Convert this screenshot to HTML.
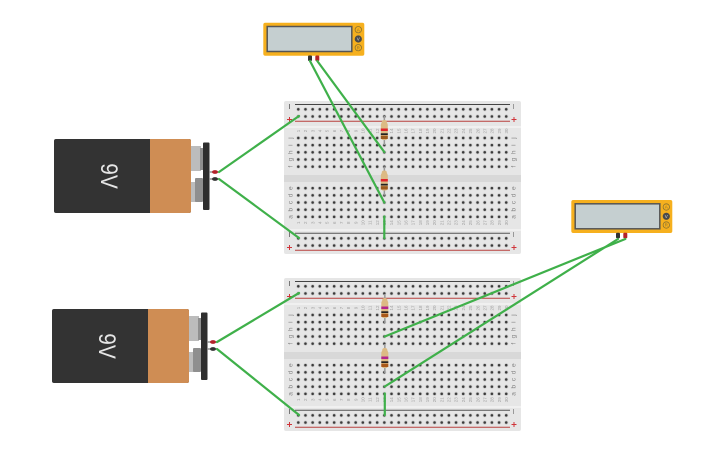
<!DOCTYPE html>
<html>
<head>
<meta charset="utf-8">
<style>
html,body{margin:0;padding:0;background:#fff;width:725px;height:453px;overflow:hidden}
svg{display:block}
text{font-family:"Liberation Sans",sans-serif}
</style>
</head>
<body>
<svg width="725" height="453" viewBox="0 0 725 453" xmlns="http://www.w3.org/2000/svg">
<defs>
<pattern id="h" patternUnits="userSpaceOnUse" x="294.72" y="105.72" width="7.17" height="7.17">
<circle cx="3.585" cy="3.585" r="2.1" fill="#d3d3d3"/>
<circle cx="3.585" cy="3.585" r="1.3" fill="#3a3a3a"/>
</pattern>
<g id="nums" text-anchor="middle" font-size="4.5" fill="#a0a0a0">
<text x="0" y="300">1</text><text x="0" y="307.2">2</text><text x="0" y="314.3">3</text><text x="0" y="321.5">4</text><text x="0" y="328.7">5</text><text x="0" y="335.9">6</text><text x="0" y="343">7</text><text x="0" y="350.2">8</text><text x="0" y="357.4">9</text><text x="0" y="364.5">10</text><text x="0" y="371.7">11</text><text x="0" y="378.9">12</text><text x="0" y="386">13</text><text x="0" y="393.2">14</text><text x="0" y="400.4">15</text><text x="0" y="407.6">16</text><text x="0" y="414.7">17</text><text x="0" y="421.9">18</text><text x="0" y="429.1">19</text><text x="0" y="436.2">20</text><text x="0" y="443.4">21</text><text x="0" y="450.6">22</text><text x="0" y="457.7">23</text><text x="0" y="464.9">24</text><text x="0" y="472.1">25</text><text x="0" y="479.3">26</text><text x="0" y="486.4">27</text><text x="0" y="493.6">28</text><text x="0" y="500.8">29</text><text x="0" y="507.9">30</text>
</g>
<g id="lets" text-anchor="middle" font-size="6.5" fill="#858585">
<text x="-138" y="0">j</text><text x="-145.2" y="0">i</text><text x="-152.3" y="0">h</text><text x="-159.5" y="0">g</text><text x="-166.7" y="0">f</text>
<text x="-188.2" y="0">e</text><text x="-195.4" y="0">d</text><text x="-202.5" y="0">c</text><text x="-209.7" y="0">b</text><text x="-216.9" y="0">a</text>
</g>
<g id="board">
<rect x="284" y="101" width="237" height="153" rx="2" fill="#e6e6e6"/>
<rect x="284" y="126" width="237" height="2" fill="#f0f0f0"/>
<rect x="284" y="229" width="237" height="2" fill="#f0f0f0"/>
<rect x="284" y="175" width="237" height="7" fill="#d8d8d8"/>
<line x1="295" y1="104.5" x2="510" y2="104.5" stroke="#444" stroke-width="1"/>
<line x1="295" y1="121.3" x2="510" y2="121.3" stroke="#b8403f" stroke-width="1"/>
<line x1="295" y1="233.3" x2="510" y2="233.3" stroke="#555" stroke-width="1"/>
<line x1="295" y1="250.3" x2="510" y2="250.3" stroke="#b8403f" stroke-width="1"/>
<rect x="294.72" y="105.72" width="215.1" height="14.34" fill="url(#h)"/>
<rect x="294.72" y="134.4" width="215.1" height="35.85" fill="url(#h)"/>
<rect x="294.72" y="184.6" width="215.1" height="35.85" fill="url(#h)"/>
<rect x="294.72" y="234.45" width="215.1" height="14.34" fill="url(#h)"/>
<use href="#nums" transform="translate(0,131) rotate(-90)"/>
<use href="#nums" transform="translate(0,222.7) rotate(-90)"/>
<use href="#lets" transform="rotate(-90)" y="292.5"/>
<use href="#lets" transform="rotate(-90)" y="515.5"/>
<rect x="289" y="104" width="1" height="5" fill="#777"/>
<rect x="513" y="104" width="1" height="5" fill="#999"/>
<rect x="289" y="232" width="1" height="5" fill="#777"/>
<rect x="513" y="232" width="1" height="5" fill="#999"/>
<path d="M287 119.5h5M289.5 117v5M287 247.5h5M289.5 245v5M511.5 119.5h5M514 117v5M511.5 247.5h5M514 245v5" stroke="#d0343a" stroke-width="1" fill="none"/>
</g>
<g id="battery">
<rect x="54" y="139" width="137" height="74" rx="2" fill="#333"/>
<path d="M150 139h39a2 2 0 0 1 2 2v70a2 2 0 0 1-2 2h-39z" fill="#cf8d54"/>
<text transform="translate(101,176) rotate(90) scale(0.87,1)" text-anchor="middle" font-size="24" fill="#e6e6e6">9V</text>
<rect x="191" y="146" width="10" height="25" fill="#bcbcbc"/>
<rect x="200" y="148" width="3" height="22" fill="#8f8f8f"/>
<rect x="191" y="182" width="5" height="20" fill="#bcbcbc"/>
<rect x="195" y="178" width="8" height="24" rx="1" fill="#8f8f8f"/>
<rect x="203" y="142.5" width="6.5" height="67.5" rx="1" fill="#2e2e2e"/>
<rect x="209" y="171.3" width="9" height="1.4" fill="#888"/>
<rect x="209" y="178.3" width="9" height="1.4" fill="#888"/>
<ellipse cx="215" cy="172" rx="3" ry="1.9" fill="#b3222a"/>
<ellipse cx="215" cy="179" rx="3" ry="1.9" fill="#333"/>
</g>
<g id="meter">
<rect x="263.3" y="22.7" width="101" height="33" rx="2" fill="#f6b01e"/>
<rect x="267.2" y="26.5" width="84.6" height="25" fill="#c5cfd0" stroke="#555" stroke-width="1.5"/>
<circle cx="358.3" cy="29.7" r="3.2" fill="none" stroke="#8a7230" stroke-width="0.8"/>
<circle cx="358.3" cy="39" r="3.6" fill="#4a4a4a"/>
<circle cx="358.3" cy="47.7" r="3.2" fill="none" stroke="#8a7230" stroke-width="0.8"/>
<text x="358.3" y="31.3" text-anchor="middle" font-size="4.5" fill="#8a7230">A</text>
<text x="358.3" y="40.6" text-anchor="middle" font-size="4.5" fill="#ddd">V</text>
<text x="358.3" y="49.3" text-anchor="middle" font-size="4.5" fill="#8a7230">R</text>
<rect x="308" y="55.5" width="4" height="5.5" rx="1" fill="#333"/>
<rect x="315.3" y="55.5" width="4" height="5.5" rx="1" fill="#b3222a"/>
</g>
<g id="res">
<rect x="383.6" y="-2" width="1.5" height="29" fill="#9a9a9a"/>
<path d="M381.8 4c0-1.5 1-2 2.5-2s2.5.5 2.5 2c0 1 1 1.5 1 3v11c0 1.5 0 2-.5 3l-1.200 1h-3.600l-1.200-1c-.5-1-.5-1.500-.5-3V7c0-1.500 1-2 1-3z" fill="#dcba84"/>
</g>
</defs>

<use href="#board"/>
<use href="#board" y="177"/>

<!-- Resistors top board -->
<g transform="translate(0,118)">
<use href="#res"/>
<rect x="380.800" y="10.500" width="7" height="2.500" fill="#e0232b"/>
<rect x="380.800" y="15.300" width="7" height="1.700" fill="#222"/>
<rect x="380.800" y="17.700" width="7" height="3.300" fill="#9a5a1e"/>
</g>
<g transform="translate(0,168.500)">
<use href="#res"/>
<rect x="380.800" y="10.500" width="7" height="2.500" fill="#e0232b"/>
<rect x="380.800" y="15.300" width="7" height="1.700" fill="#222"/>
<rect x="380.800" y="17.700" width="7" height="3.300" fill="#9a5a1e"/>
</g>
<!-- Resistors bottom board -->
<g transform="translate(0.500,296)">
<use href="#res"/>
<rect x="380.800" y="10.500" width="7" height="2.500" fill="#b3248e"/>
<rect x="380.800" y="15.300" width="7" height="1.700" fill="#222"/>
<rect x="380.800" y="17.700" width="7" height="3.300" fill="#a8581a"/>
</g>
<g transform="translate(0.500,346)">
<use href="#res"/>
<rect x="380.800" y="10.500" width="7" height="2.500" fill="#b3248e"/>
<rect x="380.800" y="15.300" width="7" height="1.700" fill="#222"/>
<rect x="380.800" y="17.700" width="7" height="3.300" fill="#a8581a"/>
</g>

<use href="#battery"/>
<use href="#battery" transform="translate(-2,170)"/>
<use href="#meter"/>
<use href="#meter" transform="translate(308,177.300)"/>

<g stroke="#3fb04a" stroke-width="2.200" fill="none" stroke-linecap="round">
<line x1="219" y1="172" x2="299" y2="116"/>
<line x1="219" y1="179" x2="299" y2="238"/>
<line x1="217" y1="342" x2="299" y2="293"/>
<line x1="217" y1="349" x2="299" y2="415"/>
<line x1="310" y1="61" x2="384.300" y2="202.500"/>
<line x1="317.300" y1="61" x2="384.300" y2="152"/>
<line x1="384.300" y1="216.500" x2="384.300" y2="238"/>
<line x1="625.300" y1="239" x2="384.800" y2="336.500"/>
<line x1="618" y1="239" x2="384.800" y2="386.500"/>
<line x1="384.800" y1="393.500" x2="384.800" y2="415"/>
</g>
</svg>
</body>
</html>
